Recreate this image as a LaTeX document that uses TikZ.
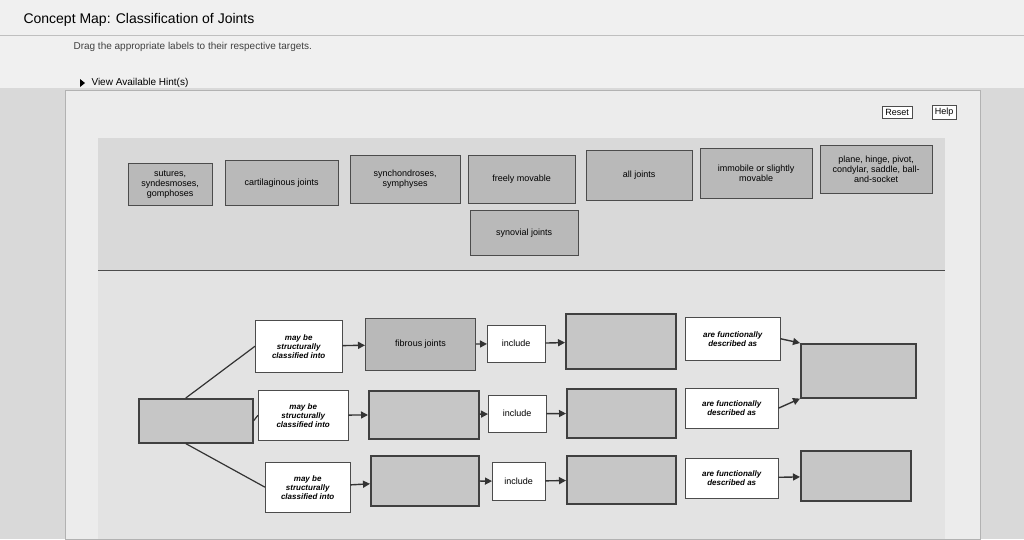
\documentclass[tikz,border=0pt]{standalone}
\usepackage{fontspec}
\setmainfont{Liberation Sans}
\usetikzlibrary{arrows.meta}
\begin{document}
\begin{tikzpicture}[x=1pt,y=-1pt,
 lbl/.style={draw=gray!60!black,fill=gray!55,align=center,font=\fontsize{9}{10}\selectfont,inner sep=2pt,anchor=north west},
 tgt/.style={draw=black!75,line width=1.6pt,fill=gray!45,anchor=north west,inner sep=0pt},
 conn/.style={draw=black!70,fill=white,align=center,font=\bfseries\itshape\fontsize{8}{9}\selectfont,anchor=north west,inner sep=1pt},
 arr/.style={-{Triangle[length=7pt,width=7pt]},line width=1.4pt,black!80},
 ln/.style={line width=1.2pt,black!80}]
\useasboundingbox (0,0) rectangle (1024,539);
\fill[gray!30] (0,0) rectangle (1024,539);
\fill[gray!12] (0,0) rectangle (1024,88);
\node[anchor=west,font=\fontsize{14}{16}\selectfont] (title) at (20,20) {Concept Map: Classification of Joints};
\draw[gray!50] (0,35) -- (1024,35);
\node[anchor=west,font=\fontsize{10}{12}\selectfont,gray!50!black] (drag) at (70,47) {Drag the appropriate labels to their respective targets.};
\fill (80,79) -- (85,83) -- (80,87) -- cycle;
\node[anchor=west,font=\fontsize{10}{12}\selectfont] (hint) at (88,83) {View Available Hint(s)};
\draw[gray!60,fill=gray!15] (65,90) rectangle (980,539);
\node[draw=black!70,fill=white,font=\fontsize{9}{10}\selectfont,inner sep=3pt] (reset) at (897,112) {Reset};
\node[draw=black!70,fill=white,font=\fontsize{9}{10}\selectfont,inner sep=3pt] (help) at (944,112) {Help};
\fill[gray!30] (98,138) rectangle (945,270);
\draw[gray!60!black] (98,270) -- (945,270);
\fill[gray!22] (98,271) rectangle (945,539);
\node[lbl,minimum width=84pt,minimum height=42pt] (l1) at (128,163) {sutures,\\syndesmoses,\\gomphoses};
\node[lbl,minimum width=113pt,minimum height=45pt] (l2) at (225,160) {cartilaginous joints};
\node[lbl,minimum width=110pt,minimum height=48pt] (l3) at (350,155) {synchondroses,\\symphyses};
\node[lbl,minimum width=107pt,minimum height=48pt] (l4) at (468,155) {freely movable};
\node[lbl,minimum width=106pt,minimum height=50pt] (l5) at (586,150) {all joints};
\node[lbl,minimum width=112pt,minimum height=50pt] (l6) at (700,148) {immobile or slightly\\movable};
\node[lbl,minimum width=112pt,minimum height=48pt] (l7) at (820,145) {plane, hinge, pivot,\\condylar, saddle, ball-\\and-socket};
\node[lbl,minimum width=108pt,minimum height=45pt] (l8) at (470,210) {synovial joints};
% root
\node[tgt,minimum width=114pt,minimum height=44pt] (root) at (138,398) {};
% row 1
\node[conn,minimum width=87pt,minimum height=52pt] (c1) at (255,320) {may be\\structurally\\classified into};
\node[lbl,minimum width=110pt,minimum height=52pt,draw=black!70,line width=1pt] (fib) at (365,318) {fibrous joints};
\node[conn,minimum width=58pt,minimum height=37pt,font=\fontsize{9}{10}\selectfont] (i1) at (487,325) {include};
\node[tgt,minimum width=110pt,minimum height=55pt] (t1) at (565,313) {};
\node[conn,minimum width=95pt,minimum height=43pt] (f1) at (685,317) {are functionally\\described as};
\node[tgt,minimum width=115pt,minimum height=54pt] (r1) at (800,343) {};
% row 2
\node[conn,minimum width=90pt,minimum height=50pt] (c2) at (258,390) {may be\\structurally\\classified into};
\node[tgt,minimum width=110pt,minimum height=48pt] (t21) at (368,390) {};
\node[conn,minimum width=58pt,minimum height=37pt,font=\fontsize{9}{10}\selectfont] (i2) at (488,395) {include};
\node[tgt,minimum width=109pt,minimum height=49pt] (t22) at (566,388) {};
\node[conn,minimum width=93pt,minimum height=40pt] (f2) at (685,388) {are functionally\\described as};
% row 3
\node[conn,minimum width=85pt,minimum height=50pt] (c3) at (265,462) {may be\\structurally\\classified into};
\node[tgt,minimum width=108pt,minimum height=50pt] (t31) at (370,455) {};
\node[conn,minimum width=53pt,minimum height=38pt,font=\fontsize{9}{10}\selectfont] (i3) at (492,462) {include};
\node[tgt,minimum width=109pt,minimum height=48pt] (t32) at (566,455) {};
\node[conn,minimum width=93pt,minimum height=40pt] (f3) at (685,458) {are functionally\\described as};
\node[tgt,minimum width=110pt,minimum height=50pt] (r3) at (800,450) {};
% connectors
\draw[ln] (root.north) ++(-10,0) coordinate (ra) -- (c1.west);
\draw[ln] (root.east) -- (c2.west);
\draw[ln] (root.south) ++(-10,0) coordinate (rb) -- (c3.west);
\draw[arr] (c1) -- (fib);
\draw[arr] (fib) -- (i1);
\draw[arr] (i1) -- (t1);
\draw[arr] (f1.east) -- (r1.north west);
\draw[arr] (c2) -- (t21);
\draw[arr] (t21) -- (i2);
\draw[arr] (i2) -- (t22);
\draw[arr] (f2.east) -- (r1.south west);
\draw[arr] (c3) -- (t31);
\draw[arr] (t31) -- (i3);
\draw[arr] (i3) -- (t32);
\draw[arr] (f3) -- (r3);
\end{tikzpicture}
\end{document}
